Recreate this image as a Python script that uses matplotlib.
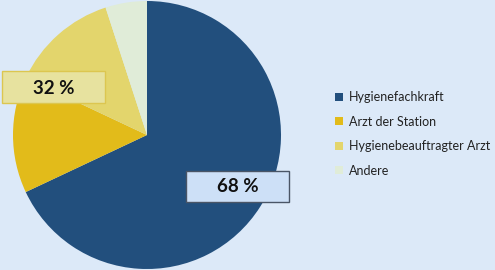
import numpy as np
import matplotlib
matplotlib.use('Agg')
import matplotlib.pyplot as plt
from matplotlib.patches import Rectangle

labels = ['Hygienefachkraft', 'Arzt der Station', 'Hygienebeauftragter Arzt', 'Andere']
shares = [68, 14, 13, 5]
colors = ['#224f7d', '#e2bb1a', '#e3d56c', '#e0ecd8']
group_labels = ['68 %', '32 %']

plt.rcParams['font.family'] = ['Lato', 'DejaVu Sans']
bg = '#dce9f8'

fig = plt.figure(figsize=(4.95, 2.7), dpi=100)
fig.patch.set_facecolor(bg)
ax = fig.add_axes([0, 0, 1, 1])
ax.set_aspect('equal')

# y axis is inverted, so counterclock=True draws clockwise on screen
wedges, _ = ax.pie(shares, colors=colors, startangle=-90, counterclock=True,
                   center=(147, 135), radius=134, frame=True)
ax.set_xlim(0, 495)
ax.set_ylim(270, 0)
ax.axis('off')

# value boxes
ax.add_patch(Rectangle((186, 171), 103, 31, facecolor='#cde0f7',
                       edgecolor='#4a5566', linewidth=1, zorder=3))
ax.text(237.5, 187, group_labels[0], ha='center', va='center',
        fontsize=13.5, fontweight='bold', color='#111111', zorder=4)
ax.add_patch(Rectangle((2, 71), 103, 32, facecolor='#e7e29f',
                       edgecolor='#dcc650', linewidth=1, zorder=3))
ax.text(53.5, 88, group_labels[1], ha='center', va='center',
        fontsize=13.5, fontweight='bold', color='#111111', zorder=4)

leg = ax.legend(wedges, labels, loc='upper left', bbox_to_anchor=(0.665, 0.685),
                frameon=False, fontsize=9, handlelength=0.6, handleheight=0.6,
                handletextpad=0.45, labelspacing=1.0, borderpad=0)
for t in leg.get_texts():
    t.set_color('#222222')

fig.savefig('out.png', dpi=100, facecolor=bg)
